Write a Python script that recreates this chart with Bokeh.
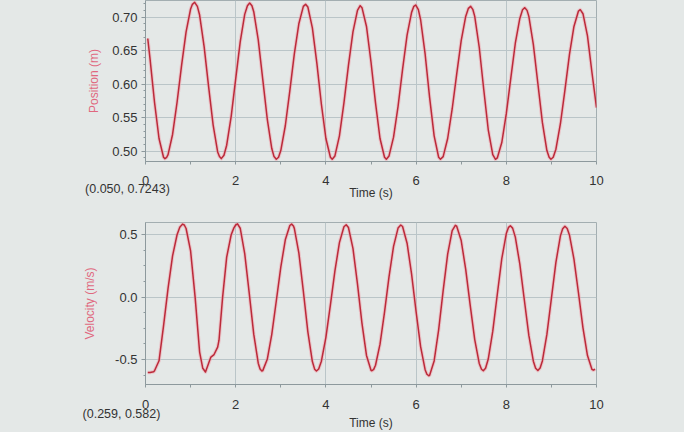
from bokeh.plotting import figure
from bokeh.layouts import column
from bokeh.models import (SingleIntervalTicker, FixedTicker, NumeralTickFormatter, Range1d,
                          LinearAxis)
from bokeh.embed import file_html
from bokeh.resources import INLINE

# ---- data ----
pos_t = [0.05, 0.1, 0.2, 0.3, 0.4, 0.43, 0.47, 0.5, 0.6, 0.7, 0.8, 0.9, 1.0, 1.04, 1.09, 1.15,
         1.2, 1.3, 1.4, 1.5, 1.6, 1.64, 1.68, 1.74, 1.8, 1.9, 2.0, 2.1, 2.2, 2.26, 2.31, 2.36,
         2.4, 2.5, 2.6, 2.7, 2.8, 2.85, 2.9, 2.95, 3.0, 3.1, 3.2, 3.3, 3.4, 3.5, 3.55,
         3.6, 3.7, 3.8, 3.9, 4.0, 4.1, 4.14, 4.2, 4.3, 4.4, 4.5, 4.6, 4.7, 4.76,
         4.8, 4.9, 5.0, 5.1, 5.2, 5.3, 5.34, 5.4, 5.5, 5.6, 5.7, 5.8, 5.9, 5.95, 5.99, 6.05,
         6.1, 6.2, 6.3, 6.4, 6.5, 6.54, 6.6, 6.7, 6.8, 6.9, 7.0, 7.1, 7.16, 7.21, 7.26,
         7.3, 7.4, 7.5, 7.6, 7.7, 7.76, 7.8, 7.9, 8.0, 8.1, 8.2, 8.3, 8.36, 8.41, 8.46,
         8.5, 8.6, 8.7, 8.8, 8.9, 8.95, 8.99, 9.04, 9.1, 9.2, 9.3, 9.4, 9.5, 9.6, 9.64,
         9.7, 9.8, 9.9, 10.0]
pos_v = [0.668, 0.638, 0.573, 0.519, 0.491, 0.489, 0.491, 0.495, 0.525, 0.573, 0.628, 0.678, 0.712, 0.719, 0.722, 0.716,
         0.703, 0.656, 0.596, 0.539, 0.499, 0.492, 0.489, 0.494, 0.509, 0.552, 0.608, 0.663, 0.704, 0.717, 0.721, 0.717,
         0.708, 0.666, 0.607, 0.548, 0.504, 0.492, 0.488, 0.491, 0.501, 0.538, 0.590, 0.645, 0.690, 0.716, 0.719,
         0.715, 0.684, 0.631, 0.570, 0.519, 0.491, 0.488, 0.493, 0.523, 0.572, 0.628, 0.678, 0.710, 0.717,
         0.714, 0.686, 0.633, 0.572, 0.519, 0.491, 0.488, 0.493, 0.521, 0.567, 0.622, 0.673, 0.707, 0.716, 0.718, 0.711,
         0.696, 0.645, 0.580, 0.523, 0.491, 0.488, 0.492, 0.519, 0.563, 0.615, 0.665, 0.701, 0.713, 0.716, 0.711,
         0.701, 0.655, 0.592, 0.532, 0.495, 0.488, 0.490, 0.513, 0.556, 0.609, 0.661, 0.698, 0.711, 0.714, 0.710,
         0.701, 0.659, 0.601, 0.543, 0.501, 0.491, 0.488, 0.491, 0.503, 0.541, 0.591, 0.644, 0.686, 0.709, 0.711,
         0.705, 0.672, 0.617, 0.565]

vel_t = [0.05, 0.1, 0.18, 0.2, 0.3, 0.4, 0.5, 0.6, 0.7, 0.76, 0.82, 0.86, 0.9, 1.0, 1.1, 1.2, 1.27, 1.33,
         1.4, 1.45, 1.52, 1.6, 1.63, 1.71, 1.8, 1.9, 1.96, 2.0, 2.04,
         2.1, 2.2, 2.3, 2.4, 2.5, 2.54, 2.58, 2.6, 2.7, 2.8, 2.9, 3.0, 3.1, 3.2, 3.24,
         3.28, 3.3, 3.4, 3.5, 3.6, 3.7, 3.75, 3.79, 3.84, 3.9, 4.0, 4.1, 4.2, 4.3, 4.4, 4.45,
         4.5, 4.6, 4.7, 4.8, 4.9, 5.0, 5.02, 5.06, 5.1, 5.2, 5.3, 5.4, 5.5, 5.6, 5.66,
         5.7, 5.8, 5.9, 6.0, 6.1, 6.2, 6.24, 6.28, 6.3, 6.4, 6.5, 6.6, 6.7, 6.8, 6.87,
         6.9, 7.0, 7.1, 7.2, 7.3, 7.4, 7.45, 7.49, 7.54, 7.6, 7.7, 7.8, 7.9, 8.0, 8.05, 8.09,
         8.14, 8.2, 8.3, 8.4, 8.5, 8.6, 8.65, 8.7, 8.75, 8.8, 8.9, 9.0, 9.1, 9.2, 9.25, 9.3,
         9.35, 9.4, 9.5, 9.6, 9.7, 9.8, 9.9, 9.93, 9.97]
vel_v = [-0.604, -0.604, -0.598, -0.59, -0.51, -0.23, 0.07, 0.33, 0.50, 0.56, 0.585, 0.578, 0.55, 0.37, 0.0, -0.44, -0.57, -0.60,
         -0.53, -0.48, -0.46, -0.40, -0.345, 0.0, 0.32, 0.50, 0.555, 0.578, 0.587,
         0.552, 0.349, 0.032, -0.297, -0.529, -0.576, -0.592, -0.589, -0.498, -0.298, -0.031, 0.241, 0.459, 0.574, 0.585,
         0.570, 0.551, 0.355, 0.047, -0.278, -0.516, -0.577, -0.592, -0.576, -0.513, -0.322, -0.062, 0.211, 0.437, 0.564, 0.580,
         0.558, 0.391, 0.107, -0.210, -0.467, -0.586, -0.590, -0.579, -0.546, -0.377, -0.120, 0.164, 0.407, 0.553, 0.578,
         0.566, 0.432, 0.184, -0.117, -0.396, -0.581, -0.618, -0.630, -0.626, -0.511, -0.262, 0.052, 0.344, 0.533, 0.575,
         0.568, 0.453, 0.222, -0.066, -0.340, -0.531, -0.578, -0.590, -0.570, -0.496, -0.273, 0.021, 0.308, 0.509, 0.559, 0.572,
         0.553, 0.481, 0.264, -0.023, -0.307, -0.513, -0.569, -0.588, -0.568, -0.511, -0.299, -0.010, 0.279, 0.491, 0.548, 0.568,
         0.550, 0.498, 0.305, 0.035, -0.246, -0.468, -0.579, -0.585, -0.578]

pos_label = "Position (m)"
vel_label = "Velocity (m/s)"
time_label = "Time (s)"
pos_readout = "(0.050, 0.7243)"
vel_readout = "(0.259, 0.582)"
pos_readout_end = 0.54   # time value where the readout text ends (right edge)
vel_readout_end = 0.33

BG = "#e4e8e7"
GRID = "#bac5c8"
AXIS = "#8d999d"
LINE = "#bb2a3a"
HALO = "#f0a0aa"
PINK = "#e0687f"
TXT = "#333333"
FONT = "Liberation Sans"


def style(p, ylabel, yint, yminor, yfmt):
    p.background_fill_color = BG
    p.border_fill_color = BG
    p.outline_line_color = "#a3aeb1"
    p.xaxis.ticker = SingleIntervalTicker(interval=2, num_minor_ticks=2)
    p.yaxis.ticker = SingleIntervalTicker(interval=yint, num_minor_ticks=yminor)
    p.yaxis.formatter = NumeralTickFormatter(format=yfmt)
    for ax in (p.xaxis[0], p.yaxis[0]):
        ax.axis_line_color = AXIS
        ax.major_tick_line_color = AXIS
        ax.minor_tick_line_color = AXIS
        ax.major_tick_in = 0
        ax.minor_tick_in = 0
        ax.major_label_text_font = FONT
        ax.major_label_text_font_size = "13px"
        ax.major_label_text_color = TXT
        ax.axis_label_text_font = FONT
        ax.axis_label_text_font_style = "normal"
        ax.axis_label_text_font_size = "12px"
    p.yaxis.major_tick_out = 4
    p.yaxis.minor_tick_out = 2
    p.xaxis.major_tick_out = 0
    p.xaxis.minor_tick_out = 3
    p.xaxis.axis_label = time_label
    p.xaxis.axis_label_text_color = TXT
    p.yaxis.axis_label = ylabel
    p.yaxis.axis_label_text_color = PINK
    p.yaxis.major_label_standoff = 4
    p.xgrid.grid_line_color = GRID
    p.ygrid.grid_line_color = GRID
    p.xgrid.ticker = p.xaxis[0].ticker
    p.ygrid.ticker = p.yaxis[0].ticker


def readout_axis(p, text, at, standoff):
    # an extra bottom axis carrying only the cursor readout as its single label;
    # a numeric (zero) orientation makes the label end at its tick
    ax = LinearAxis(ticker=FixedTicker(ticks=[at], minor_ticks=[]),
                    major_label_overrides={at: text},
                    major_label_orientation=0.0,
                    major_label_standoff=standoff,
                    major_label_text_font=FONT, major_label_text_font_size="12.5px",
                    major_label_text_color=TXT,
                    axis_line_color=None, major_tick_line_color=None, minor_tick_line_color=None,
                    major_tick_out=0, minor_tick_out=0)
    p.add_layout(ax, "below")


# top: frame x 145..596, y 0..162 ; figure height 205
p1 = figure(width=684, height=205, x_range=Range1d(0, 10), y_range=Range1d(0.4847, 0.7247),
            output_backend="svg", toolbar_location=None,
            min_border_left=145, min_border_right=88, min_border_top=0, min_border_bottom=43)
style(p1, pos_label, 0.05, 5, "0.00")
p1.xaxis[0].major_label_standoff = 11
p1.xaxis[0].axis_label_standoff = -2
p1.yaxis[0].axis_label_standoff = 8
p1.line(pos_t, pos_v, line_color=HALO, line_width=3.5, line_alpha=0.5, line_join="round")
p1.line(pos_t, pos_v, line_color=LINE, line_width=1.5, line_join="round")
readout_axis(p1, pos_readout, pos_readout_end, -14)

# bottom: frame x 141..596, canvas y 222..387 ; figure starts at y 205
p2 = figure(width=684, height=227, x_range=Range1d(0, 10), y_range=Range1d(-0.70, 0.598),
            output_backend="svg", toolbar_location=None,
            min_border_left=141, min_border_right=88, min_border_top=17, min_border_bottom=45)
style(p2, vel_label, 0.5, 4, "0.0")
p2.xaxis[0].major_label_standoff = 12
p2.xaxis[0].axis_label_standoff = 4
p2.yaxis[0].axis_label_standoff = 15
p2.line(vel_t, vel_v, line_color=HALO, line_width=3.5, line_alpha=0.5, line_join="round")
p2.line(vel_t, vel_v, line_color=LINE, line_width=1.5, line_join="round")
readout_axis(p2, vel_readout, vel_readout_end, -19)

layout = column(p1, p2, spacing=0, styles={"background-color": BG})
open("out.html", "w").write(file_html(layout, INLINE))
